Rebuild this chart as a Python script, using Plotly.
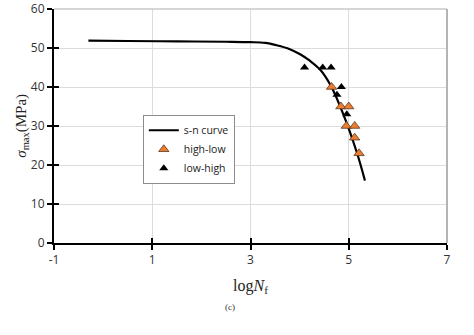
import plotly.graph_objects as go

# s-n curve
curve_x = [-0.3, 0.5, 1.5, 2.5, 3.0, 3.3, 3.53, 3.8, 4.01, 4.2, 4.42, 4.64, 4.89, 5.16, 5.33]
curve_y = [51.9, 51.8, 51.7, 51.6, 51.5, 51.3, 50.7, 49.7, 48.4, 46.8, 44.4, 40.2, 33.0, 23.4, 16.0]

# high-low tests
hl_x = [4.65, 4.84, 5.00, 4.95, 5.12, 5.12, 5.21]
hl_y = [40, 35, 35, 30, 30, 27, 23]

# low-high tests
lh_x = [4.10, 4.47, 4.64, 4.85, 4.76, 4.96]
lh_y = [45, 45, 45, 40, 38, 33]

x_ticks = [-1, 1, 3, 5, 7]
x_labels = ["-1", "1", "3", "5", "7"]
y_ticks = [0, 10, 20, 30, 40, 50, 60]

fig = go.Figure()
fig.add_trace(go.Scatter(x=curve_x, y=curve_y, mode="lines", name="s-n curve",
                         line=dict(color="black", width=2.2, shape="spline")))
fig.add_trace(go.Scatter(x=hl_x, y=hl_y, mode="markers", name="high-low",
                         marker=dict(symbol="triangle-up", size=9, color="#ED7D31",
                                     line=dict(color="#5a3a20", width=0.8))))
fig.add_trace(go.Scatter(x=lh_x, y=lh_y, mode="markers", name="low-high",
                         marker=dict(symbol="triangle-up", size=8, color="black",
                                     line=dict(color="black", width=0))))

tickfont = dict(family="Open Sans, Noto Sans, sans-serif", size=12, color="#333333")

fig.update_layout(
    width=474, height=335,
    margin=dict(l=54, r=27, t=9, b=92, autoexpand=False),
    paper_bgcolor="white", plot_bgcolor="white",
    showlegend=True,
    legend=dict(x=0.226, y=0.548, xanchor="left", yanchor="top",
                bgcolor="white", bordercolor="#8c8c8c", borderwidth=1,
                font=dict(family="Open Sans, Noto Sans, sans-serif", size=10.5, color="#222"),
                tracegroupgap=0, itemwidth=30),
    xaxis=dict(range=[-1, 7], tickvals=x_ticks, ticktext=x_labels, ticks="outside",
               ticklen=5, tickwidth=2, ticklabeloverflow="allow", automargin=False,
               tickcolor="black", showline=True, linecolor="black", linewidth=2,
               showgrid=True, gridcolor="#dcdcdc", gridwidth=1, zeroline=False,
               tickfont=tickfont),
    yaxis=dict(range=[0, 60], tickvals=y_ticks, ticks="outside", ticklen=5, tickwidth=2,
               ticklabeloverflow="allow", automargin=False,
               tickcolor="black", showline=True, linecolor="black", linewidth=2,
               showgrid=True, gridcolor="#dcdcdc", gridwidth=1, zeroline=False,
               tickfont=tickfont),
    xaxis2=dict(range=[-1, 7], tickvals=x_ticks, ticks="inside", ticklen=5, tickwidth=2,
                tickcolor="black", overlaying="x", side="bottom", showticklabels=False,
                showgrid=False, zeroline=False, showline=False, automargin=False),
    yaxis2=dict(range=[0, 60], tickvals=y_ticks, ticks="inside", ticklen=5, tickwidth=2,
                tickcolor="black", overlaying="y", side="left", showticklabels=False,
                showgrid=False, zeroline=False, showline=False, automargin=False),
    shapes=[
        dict(type="line", xref="paper", yref="paper", x0=0, x1=1, y0=1, y1=1,
             line=dict(color="#c8c8c8", width=1.5), layer="above"),
        dict(type="line", xref="paper", yref="paper", x0=1, x1=1, y0=0, y1=1,
             line=dict(color="#b4b4b4", width=2), layer="above"),
    ],
    annotations=[
        dict(text="log<i>N</i><sub>f</sub>", xref="paper", yref="paper", x=0.5, y=-0.185,
             xanchor="center", yanchor="middle", showarrow=False,
             font=dict(family="Liberation Serif, serif", size=16, color="#222")),
        dict(text="<i>σ</i><sub>max</sub>(MPa)", xref="paper", yref="paper", x=-0.082, y=0.5,
             xanchor="center", yanchor="middle", showarrow=False, textangle=-90,
             font=dict(family="Liberation Serif, serif", size=15, color="#222")),
        dict(text="(c)", xref="paper", yref="paper", x=0.448, y=-0.275,
             xanchor="center", yanchor="middle", showarrow=False,
             font=dict(family="Liberation Serif, serif", size=9, color="#333")),
    ],
)
# invisible trace to activate the secondary axes for crossing ticks
fig.add_trace(go.Scatter(x=[None], y=[None], xaxis="x2", yaxis="y2", showlegend=False,
                         hoverinfo="skip"))
fig.write_html("out.html")
